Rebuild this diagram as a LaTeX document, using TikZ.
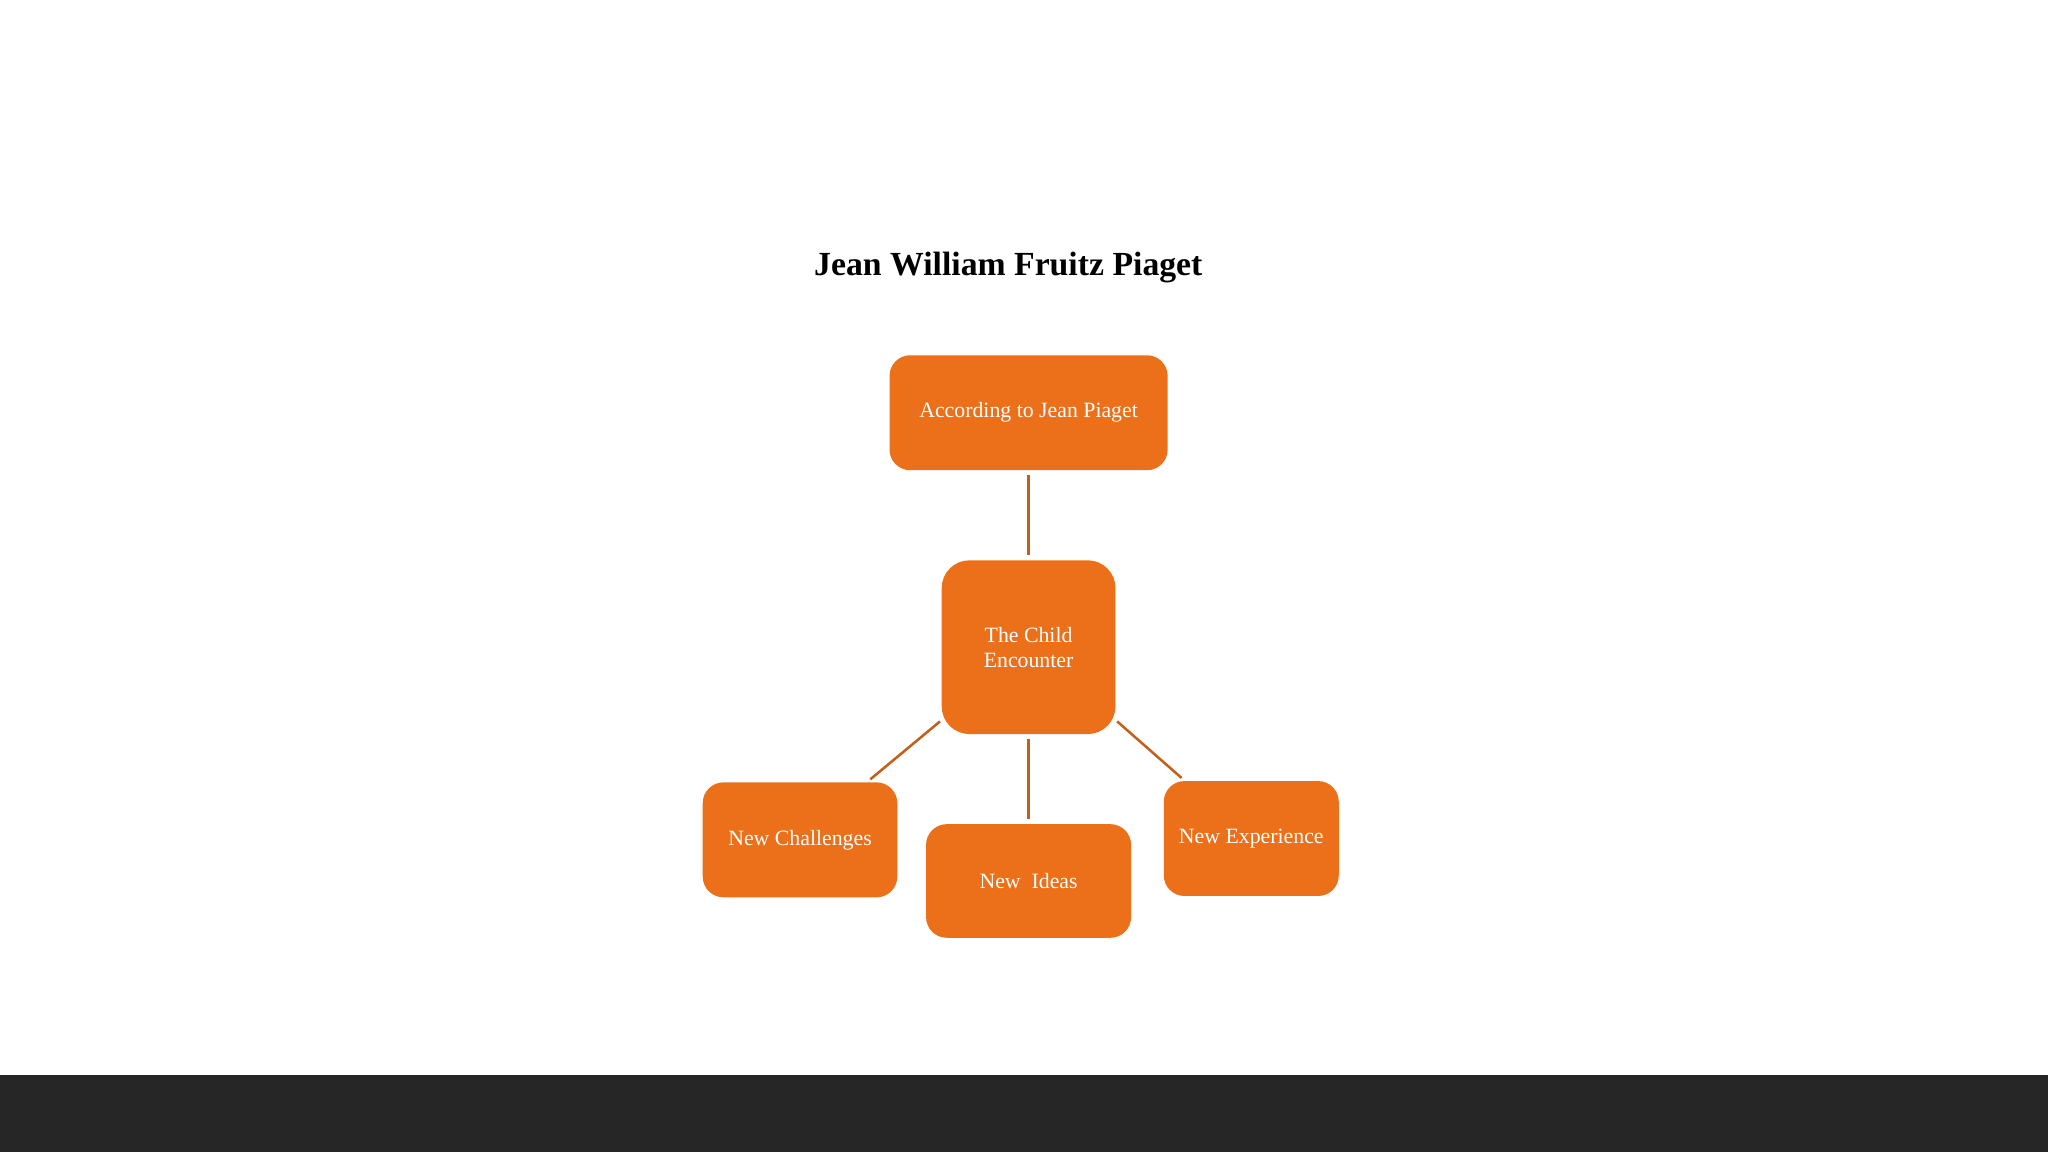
\documentclass[tikz,border=0pt]{standalone}
\usepackage{fontspec}
\setmainfont{Liberation Serif}
\definecolor{org}{HTML}{EC7019}
\definecolor{lnk}{HTML}{C2601A}
\definecolor{bar}{HTML}{262626}
\begin{document}
\begin{tikzpicture}[x=0.02cm,y=-0.02cm,
  box/.style={fill=org,rounded corners=9pt,text=white,align=center,inner sep=0pt,font=\fontsize{9.5pt}{11pt}\selectfont},
  link/.style={draw=lnk,line width=1.1pt}]
\useasboundingbox (0,0) rectangle (1568,882);
\fill[bar] (0,823) rectangle (1568,882);
\node[font=\fontsize{14.7pt}{17pt}\selectfont\bfseries] (T) at (772,205) {Jean William Fruitz Piaget};
\node[box,minimum width=4.26cm,minimum height=1.76cm] (A) at (787.5,316) {According to Jean Piaget};
\node[box,minimum width=2.66cm,minimum height=2.66cm,rounded corners=12pt] (B) at (787.5,495.5) {The Child\\Encounter};
\node[box,minimum width=2.98cm,minimum height=1.76cm] (C) at (612.5,643) {New Challenges};
\node[box,minimum width=3.14cm,minimum height=1.74cm] (D) at (787.5,674.5) {New\ \ Ideas};
\node[box,minimum width=2.68cm,minimum height=1.76cm] (E) at (958,642) {New Experience};
\draw[link] ([yshift=-2pt]A.south) -- ([yshift=2pt]B.north);
\draw[link] ([yshift=0.2cm,xshift=-0.02cm]B.south west) -- ([xshift=-0.42cm,yshift=0.04cm]C.north east);
\draw[link] ([yshift=-2pt]B.south) -- ([yshift=2pt]D.north);
\draw[link] ([yshift=0.2cm,xshift=0.02cm]B.south east) -- ([xshift=0.28cm,yshift=0.04cm]E.north west);
\end{tikzpicture}
\end{document}
